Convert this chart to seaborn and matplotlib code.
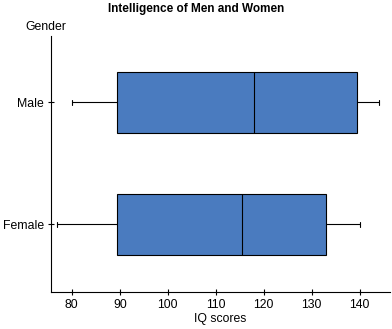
import numpy as np
import pandas as pd
import matplotlib
matplotlib.use("Agg")
import matplotlib.pyplot as plt
import seaborn as sns

# five-number summaries: min, Q1, median, Q3, max
genders = ["Male", "Female"]
male_iq = [80, 89.5, 118, 139.5, 144]
female_iq = [77, 89.5, 115.5, 133, 140]
x_ticks = [80, 90, 100, 110, 120, 130, 140]

df = pd.DataFrame({
    "Gender": ["Male"] * len(male_iq) + ["Female"] * len(female_iq),
    "IQ": male_iq + female_iq,
})

sns.set_style("white")
plt.rcParams["font.family"] = ["Liberation Sans", "DejaVu Sans"]
plt.rcParams["text.color"] = "black"
plt.rcParams["axes.labelcolor"] = "black"

fig = plt.figure(figsize=(3.92, 3.29), dpi=100)
ax = fig.add_axes([0.1293, 0.1116, 0.8657, 0.779])

sns.boxplot(data=df, x="IQ", y="Gender", order=genders, orient="h",
            whis=(0, 100), width=0.5, color="#4A7BBF", saturation=1,
            linecolor="black", linewidth=0.8, showfliers=False,
            capwidths=0.04, ax=ax)

ax.set_xlim(75.6, 146.3)
ax.set_ylim(1.56, -0.545)
ax.set_xticks(x_ticks)
ax.set_xticklabels([str(t) for t in x_ticks])
ax.tick_params(axis="x", bottom=True, labelsize=8.8, colors="black",
               length=4, width=0.8, direction="inout", pad=3)
ax.tick_params(axis="y", left=True, labelsize=8.8, colors="black",
               length=4, width=0.8, direction="inout", pad=3)
for s in ["top", "right"]:
    ax.spines[s].set_visible(False)
for s in ["left", "bottom"]:
    ax.spines[s].set_color("black")
    ax.spines[s].set_linewidth(0.8)

ax.set_xlabel("IQ scores", fontsize=8.8, labelpad=1, color="black")
ax.set_ylabel("Gender", fontsize=8.8, rotation=0, ha="center", va="center",
              color="black")
ax.yaxis.set_label_coords(-0.014, 1.035)

fig.text(0.5, 0.973, "Intelligence of Men and Women", ha="center", va="center",
         fontsize=8.5, fontweight="bold", color="black")

fig.savefig("out.png", dpi=100)
